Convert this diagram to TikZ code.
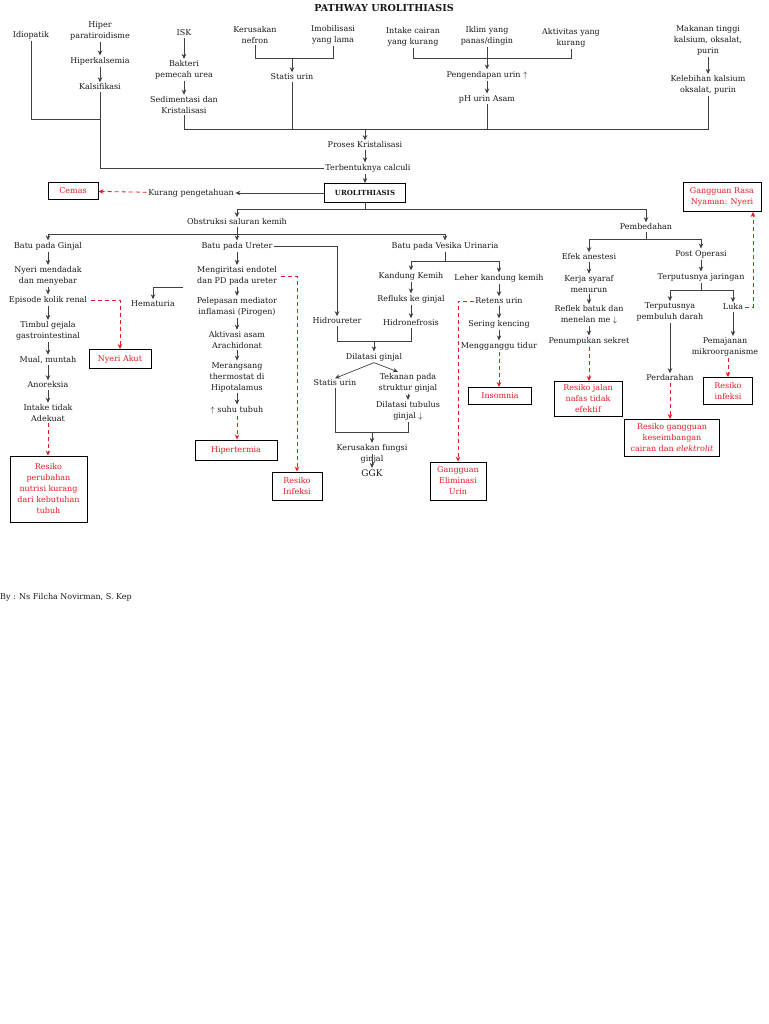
\documentclass[tikz,border=0pt]{standalone}
\usepackage{fontspec}
\setmainfont{DejaVu Serif}
\usetikzlibrary{arrows.meta,calc}
\definecolor{rd}{RGB}{228,28,36}
\definecolor{ink}{RGB}{25,25,25}
\begin{document}
\begin{tikzpicture}[x=1pt,y=-1pt,
  txt/.style={align=center,font=\fontsize{8}{11}\selectfont,inner sep=1.5pt,text=ink},
  rbox/.style={txt,draw=black,line width=0.9pt,text=rd},
  ln/.style={draw=black!75,line width=0.7pt},
  arr/.style={ln,-{Stealth[length=5pt,width=4.5pt]}},
  rarr/.style={draw=rd,line width=0.8pt,dash pattern=on 4pt off 3pt,-{Stealth[length=5pt,width=4.5pt]}}]
\fill[white] (0,0) rectangle (768,1024);
\useasboundingbox (0,0) rectangle (768,1024);

\node[txt,font=\fontsize{9.6}{11}\selectfont\bfseries] (title) at (384,8) {PATHWAY UROLITHIASIS};

% top left
\node[txt] (idio) at (31,35) {Idiopatik};
\node[txt] (hiper) at (100,31) {Hiper\\paratiroidisme};
\node[txt] (hkal) at (100,61) {Hiperkalsemia};
\node[txt] (kals) at (100,87) {Kalsifikasi};
\draw[arr] (hiper) -- (hkal);
\draw[arr] (hkal) -- (kals);
\coordinate (j1) at (100,119);
\draw[ln] (idio.south) |- (j1);

% ISK
\node[txt] (isk) at (184,33) {ISK};
\node[txt] (bakt) at (184,70) {Bakteri\\pemecah urea};
\node[txt] (sedi) at (184,105) {Sedimentasi dan\\Kristalisasi};
\draw[arr] (isk) -- (bakt);
\draw[arr] (bakt) -- (sedi);

% Kerusakan / Imobilisasi
\node[txt] (kern) at (255,35) {Kerusakan\\nefron};
\node[txt] (imob) at (333,35) {Imobilisasi\\yang lama};
\node[txt] (stat1) at (292,77) {Statis urin};
\coordinate (kb) at (333,58);
\draw[ln] (kern.south) |- (kb) -- (imob.south);
\draw[arr] (stat1.north |- kb) -- (stat1);

% Intake / Iklim / Aktivitas
\node[txt] (intk) at (413,37) {Intake cairan\\yang kurang};
\node[txt] (ikl) at (487,36) {Iklim yang\\panas/dingin};
\node[txt] (akt) at (571,38) {Aktivitas yang\\kurang};
\coordinate (ib) at (571,58);
\draw[ln] (intk.south) |- (ib) -- (akt.south);
\node[txt] (peng) at (487,75) {Pengendapan urin $\uparrow$};
\draw[arr] (ikl.south) -- (ikl.south |- peng.north);
\node[txt] (ph) at (487,99) {pH urin Asam};
\draw[arr] (peng) -- (ph);

% Makanan
\node[txt] (mak) at (708,40) {Makanan tinggi\\kalsium, oksalat,\\purin};
\node[txt] (kelb) at (708,85) {Kelebihan kalsium\\oksalat, purin};
\draw[arr] (mak) -- (kelb);

% central chain
\node[txt] (proses) at (365,145) {Proses Kristalisasi};
\node[txt] (calc) at (368,168) {Terbentuknya calculi};
\node[txt,draw=black,line width=0.9pt,font=\fontsize{7}{9}\selectfont\bfseries,minimum width=81pt,minimum height=19pt] (uro) at (365,193) {UROLITHIASIS};
\coordinate (busL) at (183,129);
\draw[ln] (sedi.south) -- (sedi.south |- busL) -- (kelb.south |- busL) -- (kelb.south);
\draw[ln] (stat1) -- (stat1 |- busL);
\draw[ln] (ph) -- (ph |- busL);
\draw[arr] (proses.north |- busL) -- (proses);
\draw[arr] (proses) -- (proses |- calc.north);
\draw[arr] (proses |- calc.south) -- (uro);
\draw[ln] (kals.south) |- (calc.west);

\node[txt] (kur) at (191,193) {Kurang pengetahuan};
\node[rbox,minimum width=50pt,minimum height=17pt] (cemas) at (73,191) {Cemas};
\draw[arr] (uro) -- (kur);
\draw[rarr] (kur) -- (cemas);

\node[txt] (obs) at (237,222) {Obstruksi saluran kemih};
\node[txt] (pemb) at (646,227) {Pembedahan};
\coordinate (ub) at (365,209);
\draw[arr] (uro.south) -- (ub) -| (obs.north);
\draw[arr] (ub) -| (pemb.north);

% level 2
\node[txt] (ginj) at (48,246) {Batu pada Ginjal};
\node[txt] (uret) at (237,246) {Batu pada Ureter};
\node[txt] (vesi) at (445,246) {Batu pada Vesika Urinaria};
\coordinate (ob) at (237,234);
\draw[ln] (obs.south) -- (ob);
\draw[arr] (ob) -| (ginj.north);
\draw[arr] (ob) -- (uret.north);
\draw[arr] (ob) -| (vesi.north);

% Ginjal column
\node[txt] (nyeri) at (48,276) {Nyeri mendadak\\dan menyebar};
\node[txt] (epis) at (48,300) {Episode kolik renal};
\node[txt] (timb) at (48,331) {Timbul gejala\\gastrointestinal};
\node[txt] (mual) at (48,360) {Mual, muntah};
\node[txt] (anor) at (48,385) {Anoreksia};
\node[txt] (intd) at (48,413) {Intake tidak\\Adekuat};
\node[rbox,minimum width=77pt,minimum height=66pt] (rnut) at (48.5,489) {Resiko\\perubahan\\nutrisi kurang\\dari kebutuhan\\tubuh};
\draw[arr] (ginj) -- (nyeri);
\draw[arr] (nyeri) -- (epis);
\draw[arr] (epis) -- (timb);
\draw[arr] (timb) -- (mual);
\draw[arr] (mual) -- (anor);
\draw[arr] (anor) -- (intd);
\draw[rarr] (intd) -- (intd |- rnut.north);
\node[rbox,minimum width=62pt,minimum height=19pt] (nakut) at (120,359) {Nyeri Akut};
\draw[rarr] ([xshift=2pt]epis.east) -| (nakut.north);
\node[txt] (hema) at (153,304) {Hematuria};
\coordinate (hm) at (183,287);
\draw[arr] (hm) -| (hema.north);

% Ureter column
\node[txt] (meng) at (237,276) {Mengiritasi endotel\\dan PD pada ureter};
\node[txt] (pele) at (237,307) {Pelepasan mediator\\inflamasi (Pirogen)};
\node[txt] (akti) at (237,340) {Aktivasi asam\\Arachidonat};
\node[txt] (mera) at (237,377) {Merangsang\\thermostat di\\Hipotalamus};
\node[txt] (suhu) at (237,410) {$\uparrow$ suhu tubuh};
\node[rbox,minimum width=82pt,minimum height=20pt] (hipt) at (236,450) {Hipertermia};
\node[rbox,minimum width=50pt,minimum height=28pt] (rinf1) at (297,486) {Resiko\\Infeksi};
\draw[arr] (uret) -- (meng);
\draw[arr] (meng) -- (pele);
\draw[arr] (pele) -- (akti);
\draw[arr] (akti) -- (mera);
\draw[arr] (mera) -- (suhu);
\draw[rarr] (suhu) -- (suhu |- hipt.north);
\draw[rarr] ([xshift=2pt]meng.east) -| (rinf1.north);

% Vesika / hidro
\node[txt] (hidu) at (337,321) {Hidroureter};
\draw[arr] (uret.east) -| (hidu.north);
\node[txt] (kand) at (411,276) {Kandung Kemih};
\node[txt] (lehe) at (499,278) {Leher kandung kemih};
\coordinate (vb) at (446,261);
\draw[ln] (vesi.south) -- (vesi.south |- vb);
\draw[arr] (vesi.south |- vb) -| (kand.north);
\draw[arr] (vesi.south |- vb) -| (lehe.north);
\node[txt] (refl) at (411,299) {Refluks ke ginjal};
\node[txt] (hidn) at (411,323) {Hidronefrosis};
\draw[arr] (kand) -- (refl);
\draw[arr] (refl) -- (hidn);
\node[txt] (dila) at (374,357) {Dilatasi ginjal};
\coordinate (hb) at (374,341);
\draw[ln] (hidu.south) |- (hidn.south |- hb) -- (hidn.south);
\draw[arr] (hb) -- (dila.north);
\node[txt] (stat2) at (335,383) {Statis urin};
\node[txt] (tek) at (408,383) {Tekanan pada\\struktur ginjal};
\draw[arr] (dila.south) -- (stat2.north);
\draw[arr] (dila.south) -- ([xshift=-10pt]tek.north);
\node[txt] (dilt) at (408,411) {Dilatasi tubulus\\ginjal $\downarrow$};
\draw[arr] (tek) -- (dilt);
\coordinate (gb) at (372,432);
\draw[ln] (stat2.south) |- (dilt.south |- gb) -- (dilt.south);
\node[txt] (kerf) at (372,454) {Kerusakan fungsi\\ginjal};
\node[txt,font=\fontsize{9}{11}\selectfont] (ggk) at (372,473) {GGK};
\draw[arr] (gb) -- (kerf.north);
\draw[arr] (kerf.center) -- (ggk.north);

% Leher column
\node[txt] (rete) at (499,301) {Retens urin};
\node[txt] (seri) at (499,324) {Sering kencing};
\node[txt] (mgt) at (499,346) {Mengganggu tidur};
\node[rbox,minimum width=63pt,minimum height=17pt] (inso) at (500,396) {Insomnia};
\node[rbox,minimum width=56pt,minimum height=38pt] (geli) at (458,481) {Gangguan\\Eliminasi\\Urin};
\draw[arr] (lehe) -- (rete);
\draw[arr] (rete) -- (seri);
\draw[arr] (seri) -- (mgt);
\draw[rarr] (mgt) -- (mgt |- inso.north);
\draw[rarr] (rete.west) -| (geli.north);

% Pembedahan
\node[txt] (efek) at (589,257) {Efek anestesi};
\node[txt] (post) at (701,254) {Post Operasi};
\coordinate (pb) at (646,239);
\draw[ln] (pemb.south) -- (pb);
\draw[arr] (pb) -| (efek.north);
\draw[arr] (pb) -| (post.north);
\node[txt] (kerj) at (589,284) {Kerja syaraf\\menurun};
\node[txt] (refb) at (589,315) {Reflek batuk dan\\menelan me $\downarrow$};
\node[txt] (penu) at (589,341) {Penumpukan sekret};
\node[rbox,minimum width=68pt,minimum height=35pt] (rjal) at (588,399) {Resiko jalan\\nafas tidak\\efektif};
\draw[arr] (efek) -- (kerj);
\draw[arr] (kerj) -- (refb);
\draw[arr] (refb) -- (penu);
\draw[rarr] (penu) -- (penu |- rjal.north);

\node[txt] (terj) at (701,277) {Terputusnya jaringan};
\draw[arr] (post) -- (terj);
\coordinate (tb) at (701,290);
\node[txt] (terp) at (670,312) {Terputusnya\\pembuluh darah};
\node[txt] (luka) at (733,307) {Luka};
\draw[ln] (terj.south) -- (tb);
\draw[arr] (tb) -| (terp.north);
\draw[arr] (tb) -| (luka.north);
\node[txt] (pema) at (725,347) {Pemajanan\\mikroorganisme};
\node[txt] (perd) at (670,378) {Perdarahan};
\draw[arr] (luka) -- (luka |- pema.north);
\draw[arr] (terp) -- (perd);
\node[rbox,minimum width=49pt,minimum height=27pt] (rinf2) at (728,391) {Resiko\\infeksi};
\node[rbox,minimum width=95pt,minimum height=37pt] (rgan) at (672,438) {Resiko gangguan\\keseimbangan\\cairan dan \textit{elektrolit}};
\draw[rarr] (pema.south -| rinf2.north) -- (rinf2.north);
\draw[rarr] (perd) -- (perd |- rgan.north);
\node[rbox,minimum width=78pt,minimum height=29pt] (gnyr) at (722,197) {Gangguan Rasa\\Nyaman: Nyeri};
\coordinate (gnx) at (753,0);
\draw[rarr] (luka.east) -| (gnyr.south -| gnx);

\node[txt,anchor=west,inner sep=0pt] (by) at (0,597) {By : Ns Filcha Novirman, S. Kep};
\end{tikzpicture}
\end{document}
